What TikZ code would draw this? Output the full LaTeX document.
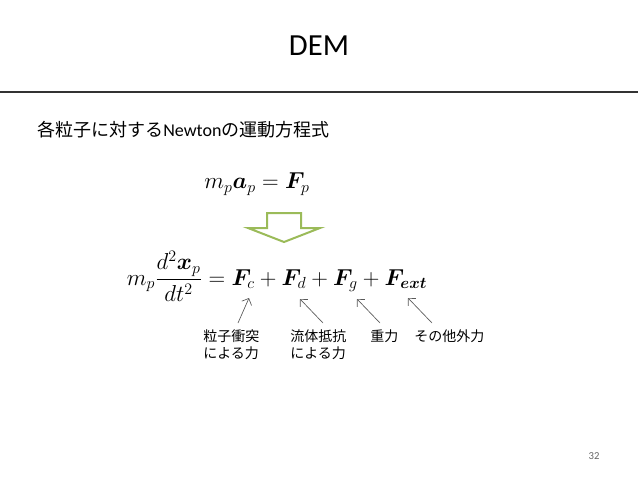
\documentclass[tikz,border=0pt]{standalone}
\usepackage{fontspec}
\usepackage{amsmath,bm}
\setmainfont{Carlito}
\newfontfamily\cjk{Noto Sans CJK JP}
\tikzset{lbl/.style={font=\cjk\fontsize{10.5}{13}\selectfont,align=left,inner sep=0pt,anchor=north west},
 ptr/.style={draw=black!65,-{Straight Barb[length=4pt]},line width=0.5pt}}
\usetikzlibrary{arrows.meta}
\begin{document}
\begin{tikzpicture}[x=0.75pt,y=-0.75pt]
\useasboundingbox (0,0) rectangle (638,478);
\node (title) at (319,46) {\fontsize{23}{26}\selectfont DEM};
\draw[black!80,line width=1pt] (0,92) -- (638,92);
\node[anchor=west,inner sep=0pt] (head) at (37,130) {\fontsize{13.5}{16}\selectfont{\cjk 各粒子に対する}Newton{\cjk の運動方程式}};
\node (eq1) at (257,184) {\fontsize{17}{20}\selectfont$m_p\bm{a}_p=\bm{F}_p$};
\draw[draw={rgb,255:red,155;green,187;blue,89},line width=1.5pt,fill=white,line join=miter]
 (267,213) -- (301,213) -- (301,228) -- (320,228) -- (284,242) -- (248,228) -- (267,228) -- cycle;
\node (eq2) at (277,276) {\fontsize{17}{20}\selectfont$m_p\dfrac{d^2\bm{x}_p}{dt^2}=\bm{F}_c+\bm{F}_d+\bm{F}_g+\bm{F}_{\bm{ext}}$};
\node[lbl] (l1) at (203,329) {粒子衝突\\による力};
\node[lbl] (l2) at (290,329) {流体抵抗\\による力};
\node[lbl] (l3) at (370,329) {重力};
\node[lbl] (l4) at (414,329) {その他外力};
\coordinate (a1) at (238,323); \coordinate (b1) at (249,298);
\coordinate (a2) at (323,323); \coordinate (b2) at (300,299);
\coordinate (a3) at (380,323); \coordinate (b3) at (357,299);
\coordinate (a4) at (432,323); \coordinate (b4) at (408,298);
\draw[ptr] (a1) -- (b1);
\draw[ptr] (a2) -- (b2);
\draw[ptr] (a3) -- (b3);
\draw[ptr] (a4) -- (b4);
\node[text=black!60] (pg) at (594,456) {\fontsize{8}{10}\selectfont 32};
\end{tikzpicture}
\end{document}
